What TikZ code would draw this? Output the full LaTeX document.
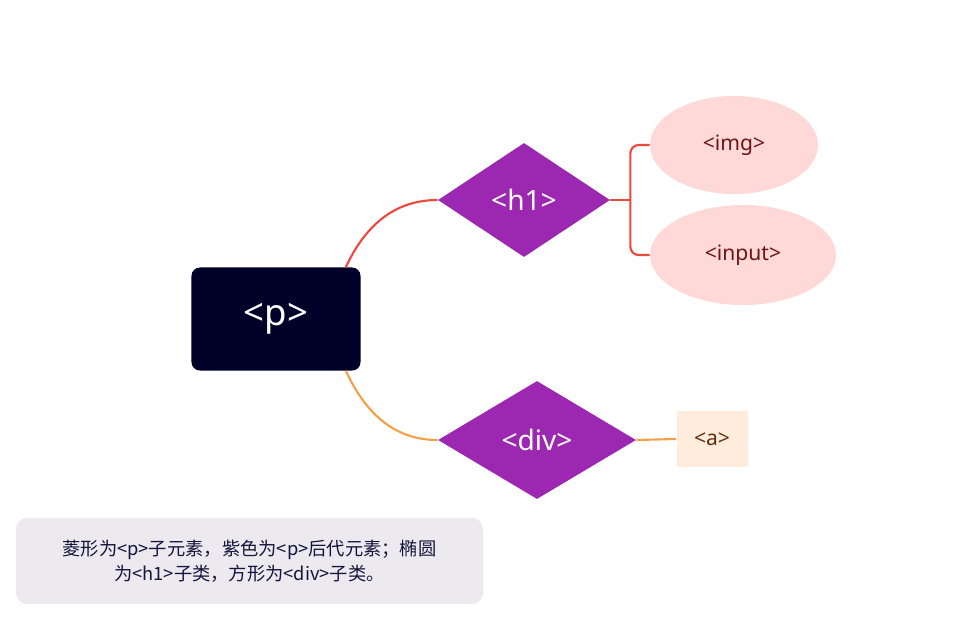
\documentclass[tikz,border=0pt]{standalone}
\usepackage{fontspec}
\setmainfont{Noto Sans}
\newfontfamily\cjk{Noto Sans CJK SC}
\usetikzlibrary{shapes.geometric, positioning, calc}
\definecolor{rootNavy}{RGB}{0, 0, 40}
\definecolor{diaPurple}{RGB}{156, 39, 176}
\definecolor{ellPink}{RGB}{255, 216, 216}
\definecolor{ellText}{RGB}{110, 20, 20}
\definecolor{boxPeach}{RGB}{255, 236, 220}
\definecolor{boxText}{RGB}{100, 45, 10}
\definecolor{noteGray}{RGB}{236, 234, 238}
\definecolor{noteText}{RGB}{20, 20, 60}
\definecolor{linkRed}{RGB}{240, 70, 60}
\definecolor{linkOrange}{RGB}{245, 160, 70}
\tikzset{
    root/.style={
        rectangle,
        rounded corners=6pt,
        fill=rootNavy,
        text=white,
        minimum width=4.225cm,
        minimum height=2.575cm,
        font=\fontsize{26}{30}\selectfont
    },
    child/.style={
        diamond,
        fill=diaPurple,
        text=white,
        inner sep=0pt,
        font=\fontsize{20}{24}\selectfont
    },
    leaf/.style={
        ellipse,
        fill=ellPink,
        text=ellText,
        inner sep=0pt,
        font=\fontsize{15}{18}\selectfont
    },
    tag/.style={
        rectangle,
        fill=boxPeach,
        text=boxText,
        minimum width=1.775cm,
        minimum height=1.4cm,
        font=\fontsize{15}{18}\selectfont
    },
    note/.style={
        rectangle,
        rounded corners=8pt,
        fill=noteGray,
        text=noteText,
        minimum width=11.675cm,
        minimum height=2.15cm,
        align=center,
        font=\cjk\fontsize{13}{18}\selectfont
    },
    link/.style={line width=1.5pt}
}
\begin{document}
\begin{tikzpicture}[x=0.025cm, y=-0.025cm]
    \useasboundingbox (0,0) rectangle (959,632);

    % Nodes
    \node[root] (p) at (276,319) {<p>};
    \node[child, minimum width=4.3cm, minimum height=2.85cm] (h1) at (524,200) {<h1>};
    \node[child, minimum width=4.95cm, minimum height=2.95cm] (div) at (537,440) {<div>};
    \node[leaf, minimum width=4.2cm, minimum height=2.45cm] (img) at (734,145) {<img>};
    \node[leaf, minimum width=4.65cm, minimum height=2.5cm] (input) at (743,255) {<input>};
    \node[tag] (a) at (712,439) {<a>};
    \node[note] (legend) at (249.5,561) {菱形为<p>子元素，紫色为<p>后代元素；椭圆\\为<h1>子类，方形为<div>子类。};

    % Links
    \draw[link, linkRed] ([xshift=-0.375cm]p.north east) to[out=65, in=180] (h1.west);
    \draw[link, linkOrange] ([xshift=-0.375cm]p.south east) to[out=-65, in=180] (div.west);
    \coordinate (fork) at ($(h1.east)+(20,0)$);
    \draw[link, linkRed] (h1.east) -- (fork);
    \draw[link, linkRed, rounded corners=6pt] (img.west) -| (fork) |- (input.west);
    \draw[link, linkOrange] (div.east) -- (a.west);
\end{tikzpicture}
\end{document}
